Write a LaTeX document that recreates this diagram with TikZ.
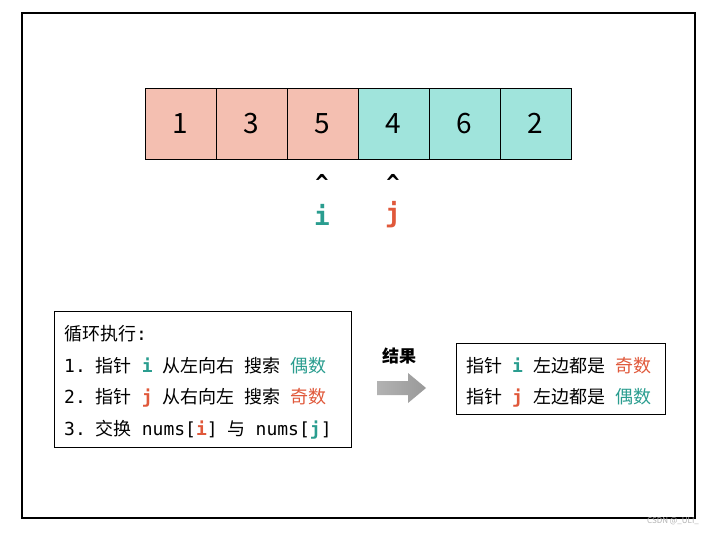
\documentclass[tikz,border=0pt]{standalone}
\usepackage{fontspec}
\setmainfont{Noto Sans CJK SC}
\newfontfamily\cjk{Noto Sans CJK SC}
\newfontfamily\mono{DejaVu Sans Mono}
\definecolor{cred}{HTML}{F4BFB1}
\definecolor{cteal}{HTML}{A0E4DC}
\definecolor{tred}{HTML}{E0583A}
\definecolor{tteal}{HTML}{2A9D8F}
\newcommand{\ri}{\textcolor{tteal}{\mono\bfseries i}}
\newcommand{\rj}{\textcolor{tred}{\mono\bfseries j}}
\newcommand{\gp}{\hspace{10pt}}
\begin{document}
\begin{tikzpicture}[x=1pt,y=-1pt,
 cell/.style={draw,minimum width=71pt,minimum height=71pt,inner sep=0pt,font=\fontsize{28}{30}\selectfont\cjk},
 txt/.style={anchor=west,inner sep=0pt,font=\fontsize{18}{20}\selectfont\cjk}]
\useasboundingbox (0,0) rectangle (723,535);
\draw[line width=1.5pt] (22,13) rectangle (695,518);
\foreach \n/\v/\c in {0/1/cred,1/3/cred,2/5/cred,3/4/cteal,4/6/cteal,5/2/cteal}
  \node[cell,fill=\c] (c\n) at (180.5+71*\n,123.5) {\v};
\node (ca) at (322,182) {\mono\bfseries\fontsize{22}{24}\selectfont\^{}};
\node (cb) at (393,182) {\mono\bfseries\fontsize{22}{24}\selectfont\^{}};
\node (pi) at (322,215) {\fontsize{26}{28}\selectfont\ri};
\node (pj) at (393,215) {\fontsize{26}{28}\selectfont\rj};
\draw[line width=1pt] (54,311) rectangle (351,447);
\node[txt] (l0) at (64,334) {循环执行\mono:};
\node[txt] (l1) at (64,366) {\mono 1.\gp\cjk 指针\gp\ri\gp 从左向右\gp 搜索\gp\textcolor{tteal}{偶数}};
\node[txt] (l2) at (64,398) {\mono 2.\gp\cjk 指针\gp\rj\gp 从右向左\gp 搜索\gp\textcolor{tred}{奇数}};
\node[txt] (l3) at (64,430) {\mono 3.\gp\cjk 交换\gp\mono nums[\textcolor{tred}{\bfseries i}]\gp\cjk 与\gp\mono nums[\textcolor{tteal}{\bfseries j}]};
\node[font=\fontsize{17}{20}\selectfont\bfseries] (res) at (399,356) {结果};
\shade[left color=gray!60,right color=gray!80] (377,381) -- (408,381) -- (408,373) -- (426,388) -- (408,403) -- (408,395) -- (377,395) -- cycle;
\draw[line width=1pt] (456,343) rectangle (665,414);
\node[txt] (r1) at (466,366) {指针\gp\ri\gp 左边都是\gp\textcolor{tred}{奇数}};
\node[txt] (r2) at (466,398) {指针\gp\rj\gp 左边都是\gp\textcolor{tteal}{偶数}};
\node[font=\fontsize{8}{9}\selectfont,text=gray!60] (wm) at (673,521) {CSDN @\_ULI\_};
\end{tikzpicture}
\end{document}
